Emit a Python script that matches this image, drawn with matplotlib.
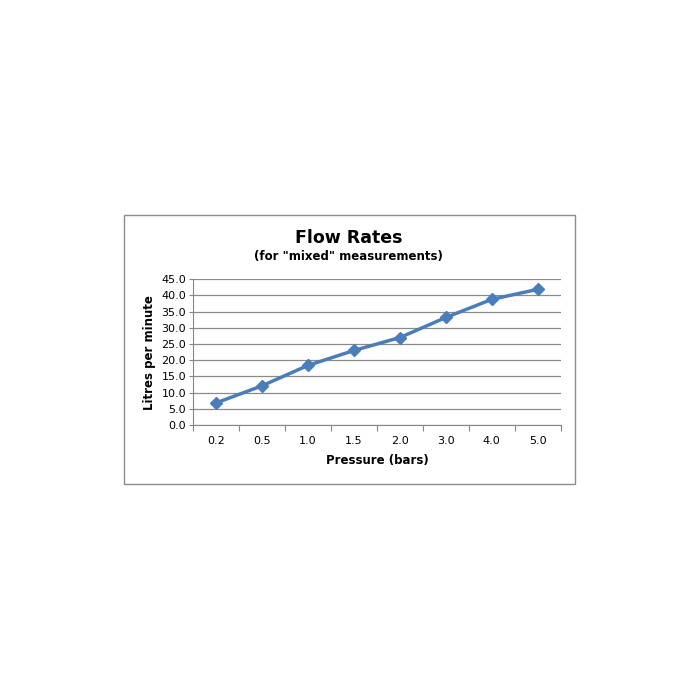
import numpy as np
import matplotlib
matplotlib.use('Agg')
import matplotlib.pyplot as plt
from matplotlib.patches import Rectangle

# DATA
pressure = ['0.2', '0.5', '1.0', '1.5', '2.0', '3.0', '4.0', '5.0']
flow = [6.8, 12.1, 18.4, 23.0, 27.0, 33.2, 38.8, 41.9]
y_ticks = [0, 5, 10, 15, 20, 25, 30, 35, 40, 45]

fig = plt.figure(figsize=(7, 7), dpi=100)

# outer chart frame
fig.patches.append(Rectangle((0.177, 0.309), 0.644, 0.384, transform=fig.transFigure,
                             fill=False, edgecolor='#8c8c8c', linewidth=1.0))

ax = fig.add_axes([0.276, 0.393, 0.525, 0.208])
x = np.arange(len(pressure)) + 0.5
ax.plot(x, flow, color='#4a7ebb', linewidth=2.5, marker='D', markersize=6,
        markerfacecolor='#4a7ebb', markeredgecolor='#4a7ebb', zorder=3)

ax.set_xlim(0, len(pressure))
ax.set_ylim(0, 45)
ax.set_yticks(y_ticks)
ax.set_yticklabels(['%.1f' % v for v in y_ticks], fontsize=8)
ax.set_xticks(np.arange(len(pressure) + 1))
ax.set_xticklabels([])
ax.set_xticks(x, minor=True)
ax.set_xticklabels(pressure, minor=True, fontsize=8)
ax.tick_params(axis='x', which='minor', length=0, pad=8)
ax.tick_params(axis='x', which='major', length=4, color='#868686')
ax.tick_params(axis='y', length=3, color='#868686', pad=2)

ax.yaxis.grid(True, color='#8a8a8a', linewidth=0.9)
ax.set_axisbelow(True)
for s in ['top', 'right']:
    ax.spines[s].set_visible(False)
for s in ['left', 'bottom']:
    ax.spines[s].set_color('#868686')

ax.set_xlabel('Pressure (bars)', fontsize=8.5, fontweight='bold', labelpad=6)
ax.set_ylabel('Litres per minute', fontsize=8.5, fontweight='bold', labelpad=4)

fig.text(0.498, 0.660, 'Flow Rates', ha='center', va='center', fontsize=12.5, fontweight='bold')
fig.text(0.498, 0.634, '(for "mixed" measurements)', ha='center', va='center',
         fontsize=8.5, fontweight='bold')

plt.savefig('out.png', dpi=100)
